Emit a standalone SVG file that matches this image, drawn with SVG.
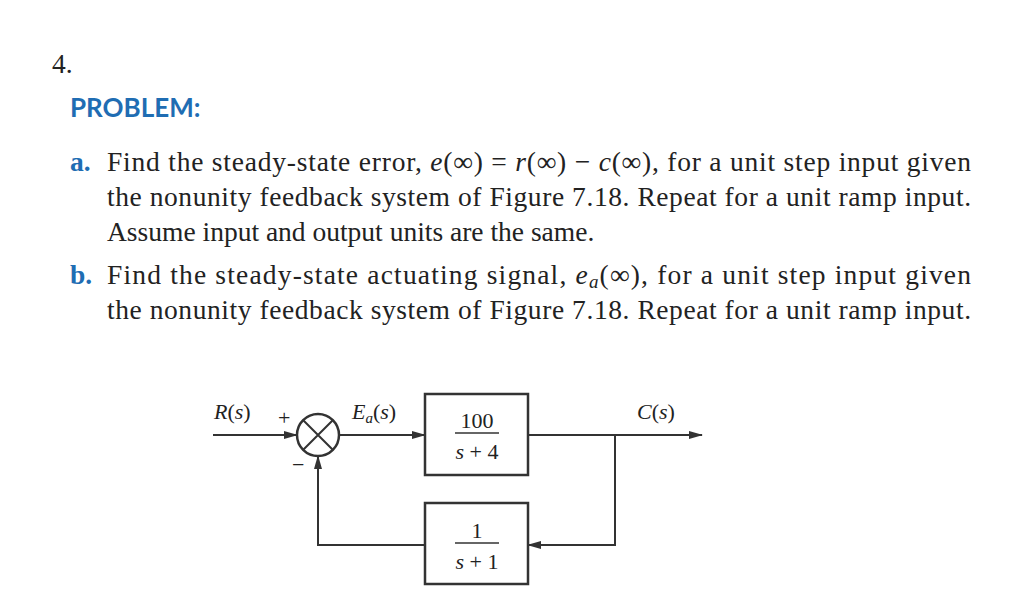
<svg xmlns="http://www.w3.org/2000/svg" width="1024" height="593" viewBox="0 0 1024 593">
<style>
.t{font-family:"Liberation Serif",serif;font-size:27.5px;fill:#222}
.lb{font-family:"Liberation Serif",serif;font-size:27.5px;font-weight:bold;fill:#1f6db3}
.d{font-family:"Liberation Serif",serif;font-size:22px;fill:#222}
.i{font-style:italic}
.ln{stroke:#333;stroke-width:2;fill:none}
.bx{stroke:#333;stroke-width:2.5;fill:#fff}
</style>
<defs><marker id="a" markerWidth="14" markerHeight="8" refX="13" refY="4" orient="auto" markerUnits="userSpaceOnUse"><path d="M0,0 L14,4 L0,8 Z" fill="#333"/></marker></defs>
<rect width="1024" height="593" fill="#fff"/>
<text x="52" y="73" class="t">4.</text>
<text x="70" y="117" style="font-family:Lato,sans-serif;font-size:26px;font-weight:bold;fill:#1f6db3">PROBLEM:</text>
<text x="70" y="171" class="lb">a.</text>
<text x="107" y="171" class="t" textLength="864" lengthAdjust="spacing">Find the steady-state error, <tspan class="i">e</tspan>(∞) = <tspan class="i">r</tspan>(∞) − <tspan class="i">c</tspan>(∞), for a unit step input given</text>
<text x="107" y="206" class="t" textLength="864" lengthAdjust="spacing">the nonunity feedback system of Figure 7.18. Repeat for a unit ramp input.</text>
<text x="107" y="241" class="t">Assume input and output units are the same.</text>
<text x="70" y="284" class="lb">b.</text>
<text x="107" y="284" class="t" textLength="864" lengthAdjust="spacing">Find the steady-state actuating signal, <tspan class="i">e<tspan font-size="19" dy="4">a</tspan></tspan><tspan dy="-4">(∞), for a unit step input given</tspan></text>
<text x="107" y="319" class="t" textLength="864" lengthAdjust="spacing">the nonunity feedback system of Figure 7.18. Repeat for a unit ramp input.</text>
<g id="connectors">
<line x1="213" y1="435" x2="297" y2="435" class="ln" marker-end="url(#a)"/>
<line x1="339" y1="435" x2="425" y2="435" class="ln" marker-end="url(#a)"/>
<line x1="528" y1="435" x2="702" y2="435" class="ln" marker-end="url(#a)"/>
<polyline points="615,435 615,545 528,545" class="ln" marker-end="url(#a)"/>
<polyline points="425,545 318,545 318,456" class="ln" marker-end="url(#a)"/>
</g>
<g id="sum"><circle cx="318" cy="435" r="21" class="bx"/><path d="M303,420 L333,450 M333,420 L303,450" class="ln"/></g>
<g id="g1"><rect x="425" y="394" width="103" height="81" class="bx"/>
<text x="477" y="428" class="d" text-anchor="middle">100</text><line x1="455" y1="433" x2="499" y2="433" stroke="#333" stroke-width="1.5"/>
<text x="477" y="459" class="d" text-anchor="middle"><tspan class="i">s</tspan> + 4</text></g>
<g id="h"><rect x="425" y="503" width="103" height="81" class="bx"/>
<text x="477" y="538" class="d" text-anchor="middle">1</text><line x1="455" y1="543" x2="499" y2="543" stroke="#333" stroke-width="1.5"/>
<text x="477" y="569" class="d" text-anchor="middle"><tspan class="i">s</tspan> + 1</text></g>
<text x="214" y="419" class="d"><tspan class="i">R</tspan>(<tspan class="i">s</tspan>)</text>
<text x="278" y="425" class="d">+</text>
<text x="292" y="472" class="d">−</text>
<text x="352" y="419" class="d"><tspan class="i">E<tspan font-size="15" dy="4">a</tspan></tspan><tspan dy="-4">(</tspan><tspan class="i">s</tspan>)</text>
<text x="637" y="419" class="d"><tspan class="i">C</tspan>(<tspan class="i">s</tspan>)</text>
</svg>
